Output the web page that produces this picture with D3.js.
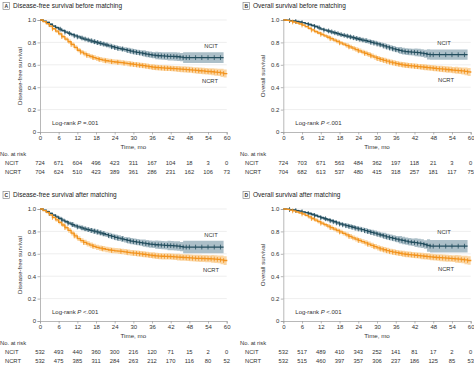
<!DOCTYPE html>
<html><head><meta charset="utf-8">
<script src="https://cdn.jsdelivr.net/npm/d3@7/dist/d3.min.js"></script>
<style>
html,body{margin:0;padding:0;background:#fff;}
svg text{font-family:"Liberation Sans",Arial,sans-serif;fill:#333;}
</style></head>
<body>
<svg id="chart" width="474" height="366"></svg>
<script>
// ---------------- DATA ----------------
const months = [0,1,2,3,4,5,6,7,8,9,10,11,12,13,14,15,16,17,18,19,20,21,22,23,24,25,26,27,28,29,30,
  31,32,33,34,35,36,37,38,39,40,41,42,43,44,45,46,47,48,49,50,51,52,53,54,55,56,57,58,59,60];
const xTicks = [0,6,12,18,24,30,36,42,48,54,60];
const yTicks = [0,0.2,0.4,0.6,0.8,1.0];
const yTickLabels = ["0","0.2","0.4","0.6","0.8","1.0"];
const groups = ["NCIT","NCRT"];

// A: disease-free survival before matching
const dfsBeforeNCIT = [1.000,0.990,0.978,0.962,0.946,0.932,0.918,0.905,0.892,0.880,
 0.869,0.859,0.849,0.839,0.830,0.822,0.814,0.806,0.799,0.792,
 0.785,0.777,0.769,0.761,0.754,0.747,0.741,0.735,0.729,0.722,
 0.716,0.711,0.706,0.701,0.696,0.691,0.687,0.683,0.681,0.679,
 0.677,0.676,0.675,0.674,0.672,0.668,0.664,0.664,0.664,0.664,
 0.664,0.664,0.664,0.664,0.664,0.664,0.664,0.664,0.664,0.664];
const dfsBeforeNCRT = [1.000,0.985,0.968,0.945,0.922,0.900,0.876,0.852,0.830,0.806,
 0.782,0.756,0.730,0.713,0.698,0.685,0.674,0.664,0.656,0.648,
 0.641,0.636,0.632,0.628,0.625,0.622,0.619,0.615,0.611,0.607,
 0.603,0.600,0.596,0.592,0.588,0.583,0.579,0.576,0.574,0.572,
 0.570,0.569,0.567,0.565,0.563,0.561,0.559,0.557,0.555,0.552,
 0.550,0.547,0.545,0.542,0.540,0.538,0.535,0.532,0.528,0.522,0.516];
// B: overall survival before matching
const osBeforeNCIT = [1.000,0.998,0.995,0.991,0.987,0.982,0.976,0.968,0.960,0.951,
 0.942,0.930,0.918,0.910,0.902,0.894,0.886,0.878,0.870,0.863,
 0.856,0.849,0.842,0.835,0.828,0.821,0.815,0.808,0.801,0.794,
 0.786,0.778,0.769,0.760,0.751,0.743,0.735,0.728,0.722,0.718,
 0.715,0.713,0.711,0.708,0.704,0.699,0.693,0.690,0.690,0.690,
 0.690,0.690,0.690,0.690,0.690,0.690,0.690,0.690,0.690,0.690];
const osBeforeNCRT = [1.000,0.996,0.990,0.982,0.974,0.965,0.955,0.941,0.926,0.911,
 0.896,0.884,0.872,0.859,0.846,0.833,0.820,0.808,0.796,0.784,
 0.772,0.760,0.748,0.736,0.725,0.714,0.703,0.692,0.680,0.668,
 0.657,0.648,0.640,0.632,0.624,0.617,0.611,0.605,0.600,0.596,
 0.593,0.590,0.587,0.584,0.581,0.578,0.575,0.572,0.569,0.566,
 0.563,0.561,0.558,0.556,0.553,0.551,0.548,0.545,0.541,0.536,0.530];
// C: disease-free survival after matching
const dfsAfterNCIT = [1.000,0.990,0.977,0.961,0.945,0.930,0.915,0.900,0.886,0.873,
 0.861,0.850,0.840,0.831,0.823,0.816,0.809,0.802,0.795,0.787,
 0.779,0.771,0.763,0.755,0.747,0.740,0.733,0.726,0.720,0.714,
 0.709,0.704,0.699,0.695,0.691,0.687,0.684,0.681,0.679,0.677,
 0.675,0.674,0.673,0.671,0.669,0.664,0.660,0.660,0.660,0.660,
 0.660,0.660,0.660,0.660,0.660,0.660,0.660,0.660,0.660,0.660];
const dfsAfterNCRT = [1.000,0.986,0.970,0.948,0.925,0.903,0.880,0.857,0.834,0.810,
 0.785,0.760,0.736,0.718,0.702,0.689,0.677,0.667,0.658,0.651,
 0.645,0.639,0.634,0.630,0.627,0.624,0.621,0.617,0.613,0.609,
 0.606,0.603,0.600,0.596,0.592,0.588,0.585,0.582,0.580,0.578,
 0.577,0.576,0.575,0.573,0.571,0.569,0.567,0.565,0.563,0.561,
 0.560,0.559,0.558,0.557,0.556,0.555,0.553,0.550,0.546,0.540,0.533];
// D: overall survival after matching
const osAfterNCIT = [1.000,0.998,0.995,0.991,0.986,0.981,0.975,0.968,0.960,0.951,
 0.942,0.932,0.922,0.913,0.904,0.895,0.886,0.876,0.866,0.859,
 0.851,0.844,0.837,0.829,0.822,0.815,0.807,0.799,0.791,0.784,
 0.776,0.768,0.760,0.752,0.745,0.738,0.731,0.725,0.719,0.713,
 0.707,0.703,0.699,0.695,0.690,0.683,0.674,0.668,0.668,0.668,
 0.668,0.668,0.668,0.668,0.668,0.668,0.668,0.668,0.668,0.668];
const osAfterNCRT = [1.000,0.996,0.990,0.983,0.975,0.966,0.956,0.943,0.929,0.915,
 0.901,0.887,0.873,0.860,0.847,0.834,0.821,0.808,0.795,0.782,
 0.769,0.756,0.743,0.731,0.719,0.708,0.697,0.686,0.675,0.664,
 0.653,0.644,0.636,0.628,0.621,0.615,0.610,0.605,0.600,0.596,
 0.593,0.590,0.587,0.584,0.581,0.578,0.575,0.572,0.569,0.567,
 0.565,0.563,0.561,0.559,0.557,0.555,0.552,0.549,0.545,0.540,0.534];

// 95% CI half-widths: [from month, half-width]
const ciDfsBeforeNCIT = [[0,0.004],[2,0.009],[5,0.013],[10,0.016],[16,0.019],[22,0.021],[28,0.024],[33,0.028],[37,0.034],[41,0.037],[46,0.048]];
const ciDfsBeforeNCRT = [[0,0.004],[2,0.010],[5,0.015],[9,0.019],[14,0.021],[20,0.022],[28,0.023],[36,0.025],[44,0.027],[50,0.029],[55,0.032],[58,0.036]];
const ciOsBeforeNCIT = [[0,0.003],[4,0.007],[8,0.011],[14,0.014],[20,0.017],[26,0.020],[32,0.024],[37,0.030],[42,0.035],[46,0.046]];
const ciOsBeforeNCRT = [[0,0.003],[4,0.009],[8,0.014],[14,0.017],[20,0.020],[26,0.022],[32,0.023],[38,0.024],[44,0.026],[50,0.028],[55,0.031],[58,0.035]];
const ciDfsAfterNCIT = [[0,0.004],[2,0.010],[5,0.015],[10,0.019],[16,0.022],[22,0.025],[28,0.028],[33,0.032],[37,0.037],[41,0.042],[46,0.056]];
const ciDfsAfterNCRT = [[0,0.004],[2,0.011],[5,0.017],[9,0.021],[14,0.023],[20,0.025],[28,0.026],[36,0.028],[44,0.030],[50,0.032],[55,0.035],[58,0.039]];
const ciOsAfterNCIT = [[0,0.003],[4,0.008],[8,0.013],[14,0.016],[20,0.020],[26,0.023],[32,0.027],[37,0.033],[42,0.039],[46,0.056]];
const ciOsAfterNCRT = [[0,0.003],[4,0.010],[8,0.016],[14,0.019],[20,0.021],[26,0.023],[32,0.025],[38,0.027],[44,0.029],[50,0.031],[55,0.034],[58,0.038]];

// censoring times (months)
const censDfsBeforeNCIT = [3,5,6.5,8,9.5,11,12,13.5,14.5,15.5,16.5,17.5,18.5,19.5,20.5,21.5,23,24,25,26.5,28,29,30,31,32,33,34,35,36,37,38,39,40,41,42,43,44,45,46,47,48,50,52,54,56,58];
const censDfsBeforeNCRT = [4,7,10,13,15,17,19,21,23,25,27,29,30,31,32,33,34,35,36,37,38,39,40,41,42,43,44,45,46,47,48,49,50,51,52,53,54,55,56,57,58,59];
const censOsBeforeNCIT = [2,4,6,8,10,11.5,13,14.5,15.5,16.5,17.5,18.5,19.5,20.5,21.5,22.5,23.5,24.5,25.5,26.5,28,29,30,31,32,33,34,35,36,37,38,39,40,41,42,43,44,45,46,47,48,50,52,54,56,58];
const censOsBeforeNCRT = [3,6,9,12,15,18,21,24,26,28,30,31,32,33,34,35,36,37,38,39,40,41,42,43,44,45,46,47,48,49,50,51,52,53,54,55,56,57,58,59];
const censDfsAfterNCIT = [3,5,7,9,10.5,12,13.5,14.5,15.5,16.5,17.5,18.5,19.5,20.5,22,23,24,25,26.5,28,29,30,31,32,33,34,35,36,37,38,39,40,41,42,43,44,45,46,47,48,50,52,54,56,58];
const censDfsAfterNCRT = [4,8,11,14,17,20,23,26,28,30,31,32,33,34,35,36,37,38,39,40,41,42,43,44,45,46,47,48,49,50,51,52,53,54,55,56,57,58,59];
const censOsAfterNCIT = [2,4,6,8,10,12,13.5,15,16,17,18,19,20,21,22,23,24,25,26,27,28,29,30,31,32,33,34,35,36,37,38,39,40,41,42,43,44,45,46,47,48,50,52,54,56,58];
const censOsAfterNCRT = [3,6,9,12,15,18,21,24,27,29,31,32,33,34,35,36,37,38,39,40,41,42,43,44,45,46,47,48,49,50,51,52,53,54,55,56,57,58,59];

// number at risk
const riskDfsBeforeNCIT = [724,671,604,496,423,311,167,104,18,3,0];
const riskDfsBeforeNCRT = [704,624,510,423,389,361,286,231,162,106,73];
const riskOsBeforeNCIT = [724,703,671,563,484,362,197,118,21,3,0];
const riskOsBeforeNCRT = [704,682,613,537,480,415,318,257,181,117,75];
const riskDfsAfterNCIT = [532,493,440,360,300,216,120,71,15,2,0];
const riskDfsAfterNCRT = [532,475,385,311,284,263,212,170,116,80,52];
const riskOsAfterNCIT = [532,517,489,410,343,252,141,81,17,2,0];
const riskOsAfterNCRT = [532,515,460,397,357,306,237,186,125,85,53];

const panelLetters = ["A","B","C","D"];
const panelTitles = ["Disease-free survival before matching","Overall survival before matching",
                     "Disease-free survival after matching","Overall survival after matching"];
const yTitles = ["Disease-free survival","Overall survival","Disease-free survival","Overall survival"];
const pTexts = ["=.001","<.001","<.001","<.001"];

// ---------------- DRAW ----------------
const colors = {NCIT:{line:"#234e5e", band:"#a3b8c2"}, NCRT:{line:"#f2941f", band:"#fbd29a"}};
const svg = d3.select("#chart");

const panels = [
  {ox:0,   oy:0,   xl:40,    xr:226.7, s:[dfsBeforeNCIT,dfsBeforeNCRT], ci:[ciDfsBeforeNCIT,ciDfsBeforeNCRT], c:[censDfsBeforeNCIT,censDfsBeforeNCRT], r:[riskDfsBeforeNCIT,riskDfsBeforeNCRT], lab:[[211,48],[210,83]]},
  {ox:240, oy:0,   xl:283.3, xr:470.7, s:[osBeforeNCIT,osBeforeNCRT], ci:[ciOsBeforeNCIT,ciOsBeforeNCRT], c:[censOsBeforeNCIT,censOsBeforeNCRT], r:[riskOsBeforeNCIT,riskOsBeforeNCRT], lab:[[444,45],[446,82]]},
  {ox:0,   oy:189, xl:40,    xr:226.7, s:[dfsAfterNCIT,dfsAfterNCRT], ci:[ciDfsAfterNCIT,ciDfsAfterNCRT], c:[censDfsAfterNCIT,censDfsAfterNCRT], r:[riskDfsAfterNCIT,riskDfsAfterNCRT], lab:[[211,48],[211,83]]},
  {ox:240, oy:189, xl:283.3, xr:470.7, s:[osAfterNCIT,osAfterNCRT], ci:[ciOsAfterNCIT,ciOsAfterNCRT], c:[censOsAfterNCIT,censOsAfterNCRT], r:[riskOsAfterNCIT,riskOsAfterNCRT], lab:[[444,45],[446,82]]}
];

function ciAt(knots, m){ let v = knots[0][1]; for (const k of knots) if (k[0] <= m) v = k[1]; return v; }

panels.forEach((p, i) => {
  const yTop = 20 + p.oy, yBot = 132 + p.oy;
  const x = d3.scaleLinear().domain([0,60]).range([p.xl, p.xr]);
  const y = d3.scaleLinear().domain([0,1]).range([yBot, yTop]);
  const g = svg.append("g");

  // title with boxed letter
  const bx = i % 2 === 0 ? 3 : 243;
  g.append("rect").attr("x", bx).attr("y", 2.5 + p.oy).attr("width", 6.5).attr("height", 7)
    .attr("fill", "#fff").attr("stroke", "#777").attr("stroke-width", 0.6);
  g.append("text").attr("x", bx + 3.25).attr("y", 8.1 + p.oy).attr("text-anchor", "middle")
    .attr("font-size", 5).attr("font-weight", "bold").text(panelLetters[i]);
  g.append("text").attr("x", bx + 10).attr("y", 8.4 + p.oy).attr("font-size", 6.5)
    .style("fill", "#222").text(panelTitles[i]);

  // gridlines
  g.selectAll(".grid").data(yTicks.filter(d => d > 0)).join("line")
    .attr("x1", p.xl).attr("x2", p.xr).attr("y1", d => y(d)).attr("y2", d => y(d))
    .attr("stroke", "#e3e3e3").attr("stroke-width", 0.6);

  // axes
  const yAxis = d3.axisLeft(y).tickValues(yTicks).tickSize(2.5).tickPadding(1.5)
    .tickFormat((d, k) => yTickLabels[k]);
  const ya = g.append("g").attr("transform", `translate(${p.xl},0)`).call(yAxis);
  const xAxis = d3.axisBottom(x).tickValues(xTicks).tickSize(2.5).tickPadding(1.5).tickFormat(d3.format("d"));
  const xa = g.append("g").attr("transform", `translate(0,${yBot})`).call(xAxis);
  [ya, xa].forEach(a => {
    a.select(".domain").attr("stroke", "#999").attr("stroke-width", 0.7);
    a.selectAll(".tick line").attr("stroke", "#999").attr("stroke-width", 0.7);
    a.selectAll(".tick text").attr("font-size", 6).attr("font-family", null).style("fill", "#333");
  });

  // axis titles
  g.append("text").attr("transform", `translate(${p.xl - 18},${(yTop + yBot) / 2}) rotate(-90)`)
    .attr("text-anchor", "middle").attr("font-size", 6.2).text(yTitles[i]);
  g.append("text").attr("x", (p.xl + p.xr) / 2).attr("y", yBot + 16.8).attr("text-anchor", "middle")
    .attr("font-size", 6.2).text("Time, mo");

  // bands
  groups.forEach((grp, k) => {
    const vals = p.s[k];
    const pts = vals.map((v, j) => ({m: months[j], s: v, h: ciAt(p.ci[k], months[j])}));
    const area = d3.area().curve(d3.curveStepAfter)
      .x(d => x(d.m)).y0(d => y(Math.max(0, d.s - d.h))).y1(d => y(Math.min(1, d.s + d.h)));
    g.append("path").datum(pts).attr("d", area).attr("fill", colors[grp].band).attr("opacity", 0.9);
  });
  // lines and censor marks
  groups.forEach((grp, k) => {
    const vals = p.s[k];
    const pts = vals.map((v, j) => ({m: months[j], s: v}));
    const line = d3.line().curve(d3.curveStepAfter).x(d => x(d.m)).y(d => y(d.s));
    g.append("path").datum(pts).attr("d", line).attr("fill", "none")
      .attr("stroke", colors[grp].line).attr("stroke-width", 1.3);
    g.selectAll(null).data(p.c[k]).join("line")
      .attr("x1", d => x(d)).attr("x2", d => x(d))
      .attr("y1", d => y(vals[Math.min(vals.length - 1, Math.floor(d))]) - 2.4)
      .attr("y2", d => y(vals[Math.min(vals.length - 1, Math.floor(d))]) + 2.4)
      .attr("stroke", colors[grp].line).attr("stroke-width", 0.8);
    g.append("text").attr("x", p.lab[k][0]).attr("y", p.lab[k][1] + p.oy).attr("text-anchor", "middle")
      .attr("font-size", 5.8).text(grp);
  });

  // log-rank
  const lr = g.append("text").attr("x", p.xl + 12).attr("y", yBot - 7).attr("font-size", 6);
  lr.append("tspan").text("Log-rank ");
  lr.append("tspan").attr("font-style", "italic").text("P");
  lr.append("tspan").text(" " + pTexts[i]);

  // number at risk table
  g.append("text").attr("x", p.ox).attr("y", 156 + p.oy).attr("font-size", 5.8).text("No. at risk");
  groups.forEach((grp, k) => {
    const ty = 165 + k * 8.8 + p.oy;
    g.append("text").attr("x", p.ox + 5).attr("y", ty).attr("font-size", 5.8).text(grp);
    g.selectAll(null).data(p.r[k]).join("text")
      .attr("x", (d, j) => x(xTicks[j])).attr("y", ty).attr("text-anchor", "middle")
      .attr("font-size", 5.8).text(d => d);
  });
});
</script>
</body></html>
